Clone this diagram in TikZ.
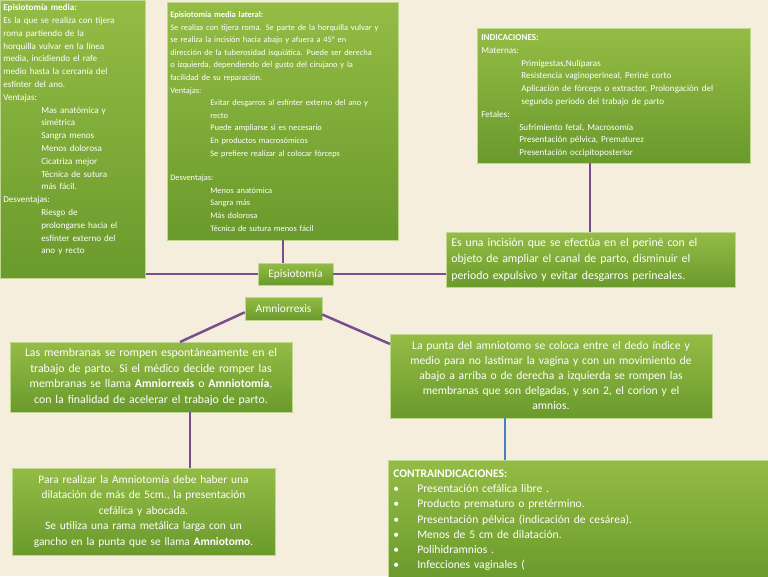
\documentclass[tikz,border=0pt]{standalone}
\usepackage{fontspec}
\setmainfont{Carlito}
\hyphenpenalty=10000 \exhyphenpenalty=10000
\definecolor{bg}{HTML}{F6EEDC}
\definecolor{gtop}{HTML}{94BC45}
\definecolor{gbot}{HTML}{6A9A2C}
\definecolor{lnk}{HTML}{7A4E8E}
\definecolor{blu}{HTML}{4A7EC0}
\begin{document}
\begin{tikzpicture}[x=1pt,y=-1pt,
 gbox/.style={draw=gtop!60!white,line width=0.6pt,top color=gtop,bottom color=gbot,text=white,inner sep=4pt,align=left},
 tbox/.style={gbox,align=center},
 lk/.style={draw=lnk,line width=2.5pt}]
\fill[bg] (0,0) rectangle (768,576);
\useasboundingbox (0,0) rectangle (768,576);
\node[gbox,anchor=north west,minimum width=145pt,minimum height=275pt,text width=139pt,inner xsep=3pt,font=\fontsize{9.1}{12.8}\selectfont,anchor=north west] (A) at (0,0) {\textbf{Episiotomía media:}\\Es la que se realiza con tijera\\roma partiendo de la\\horquilla vulvar en la línea\\media, incidiendo el rafe\\medio hasta la cercanía del\\esfínter del ano.\\Ventajas:\\\hspace*{38pt}Mas anatómica y\\\hspace*{38pt}simétrica\\\hspace*{38pt}Sangra menos\\\hspace*{38pt}Menos dolorosa\\\hspace*{38pt}Cicatriza mejor\\\hspace*{38pt}Técnica de sutura\\\hspace*{38pt}más fácil.\\Desventajas:\\\hspace*{38pt}Riesgo de\\\hspace*{38pt}prolongarse hacia el\\\hspace*{38pt}esfínter externo del\\\hspace*{38pt}ano y recto\\[8pt]\mbox{}};
\node[gbox,anchor=north west,minimum width=231pt,minimum height=238pt,text width=225pt,inner xsep=3pt,font=\fontsize{8.4}{12.6}\selectfont] (B) at (167,2) {\textbf{Episiotomía media lateral:}\\Se realiza con tijera roma. Se parte de la horquilla vulvar y\\se realiza la incisión hacia abajo y afuera a 45° en\\dirección de la tuberosidad isquiática. Puede ser derecha\\o izquierda, dependiendo del gusto del cirujano y la\\facilidad de su reparación.\\Ventajas:\\\hspace*{40pt}Evitar desgarros al esfínter externo del ano y\\\hspace*{40pt}recto\\\hspace*{40pt}Puede ampliarse si es necesario\\\hspace*{40pt}En productos macrosómicos\\\hspace*{40pt}Se prefiere realizar al colocar fórceps\\[12pt]Desventajas:\\\hspace*{40pt}Menos anatómica\\\hspace*{40pt}Sangra más\\\hspace*{40pt}Más dolorosa\\\hspace*{40pt}Técnica de sutura menos fácil};
\node[gbox,anchor=north west,minimum width=273pt,minimum height=135pt,text width=265pt,font=\fontsize{9.1}{12.8}\selectfont] (C) at (477,28) {\textbf{INDICACIONES:}\\Maternas:\\\hspace*{40pt}Primigestas,Nulíparas\\\hspace*{40pt}Resistencia vaginoperineal, Periné corto\\\hspace*{40pt}Aplicación de fórceps o extractor, Prolongación del\\\hspace*{40pt}segundo periodo del trabajo de parto\\Fetales:\\\hspace*{38pt}Sufrimiento fetal, Macrosomía\\\hspace*{38pt}Presentación pélvica, Prematurez\\\hspace*{38pt}Presentación occipitoposterior};
\node[gbox,anchor=north west,minimum width=289pt,minimum height=55pt,text width=279pt,font=\fontsize{11.8}{16.5}\selectfont] (D) at (446,232) {Es una incisión que se efectúa en el periné con el objeto de ampliar el canal de parto, disminuir el periodo expulsivo y evitar desgarros perineales.};
\node[tbox,minimum width=75pt,minimum height=22pt,font=\fontsize{11.4}{12}\selectfont] (Ep) at (295.5,274) {Episiotomía};
\node[tbox,minimum width=77pt,minimum height=23pt,font=\fontsize{11.4}{12}\selectfont] (Am) at (283.5,308.5) {Amniorrexis};
\node[tbox,minimum width=282pt,minimum height=70pt,text width=274pt,font=\fontsize{11.8}{15.5}\selectfont] (E) at (151,377) {Las membranas se rompen espontáneamente en el trabajo de parto. Si el médico decide romper las membranas se llama \textbf{Amniorrexis} o \textbf{Amniotomía}, con la finalidad de acelerar el trabajo de parto.};
\node[tbox,minimum width=322pt,minimum height=84pt,text width=314pt,font=\fontsize{11.6}{15}\selectfont] (F) at (551,376) {La punta del amniotomo se coloca entre el dedo índice y\\medio para no lastimar la vagina y con un movimiento de\\abajo a arriba o de derecha a izquierda se rompen las\\membranas que son delgadas, y son 2, el corion y el\\amnios.};
\node[tbox,minimum width=263pt,minimum height=87pt,text width=259pt,inner xsep=2pt,font=\fontsize{11.4}{15.5}\selectfont] (G) at (143.5,511.5) {Para realizar la Amniotomía debe haber una\\dilatación de más de 5cm., la presentación\\cefálica y abocada.\\Se utiliza una rama metálica larga con un\\gancho en la punta que se llama \textbf{Amniotomo}.};
\node[gbox,anchor=north west,minimum width=385pt,minimum height=120pt,text width=375pt,font=\fontsize{11.6}{15.2}\selectfont] (H) at (388,460) {\textbf{CONTRAINDICACIONES:}\\\makebox[24pt][l]{•}Presentación cefálica libre .\\\makebox[24pt][l]{•}Producto prematuro o pretérmino.\\\makebox[24pt][l]{•}Presentación pélvica (indicación de cesárea).\\\makebox[24pt][l]{•}Menos de 5 cm de dilatación.\\\makebox[24pt][l]{•}Polihidramnios .\\\makebox[24pt][l]{•}Infecciones vaginales (};
\draw[lk] (A.east |- Ep.west) -- (Ep.west);
\draw[lk] (Ep.north -| 283,0) -- (283,240);
\draw[lk] (Ep.east) -- (Ep.east -| D.west);
\draw[lk] (590,163) -- (590,232);
\draw[lk] (Am.south west) ++(0,-8) coordinate (am1) -- (180,342);
\draw[lk] (Am.east) ++(0,6) coordinate (am2) -- (390,344);
\draw[lk] (190,412) -- (190,468);
\draw[draw=blu,line width=2.5pt] (505,418) -- (505,460);
\end{tikzpicture}
\end{document}
